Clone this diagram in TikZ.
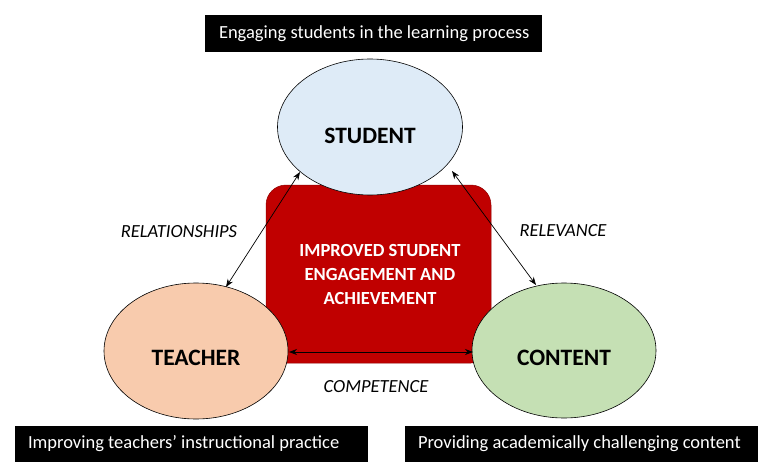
\documentclass[tikz,border=0pt]{standalone}
\usepackage{fontspec}
\setmainfont{Carlito}
\usetikzlibrary{arrows.meta,shapes.geometric}
\definecolor{stud}{HTML}{DEEBF7}
\definecolor{teach}{HTML}{F8CBAD}
\definecolor{cont}{HTML}{C5E0B4}
\definecolor{core}{HTML}{C00000}
\tikzset{
  blackbox/.style={fill=black,inner sep=0pt},
  boxtext/.style={text=white,anchor=west,inner sep=0pt,font=\fontsize{18.5}{22}\selectfont},
  roleell/.style={ellipse,draw=black,line width=0.6pt,inner sep=0pt},
  rolelabel/.style={font=\bfseries\fontsize{23.5}{28}\selectfont},
  linklabel/.style={font=\itshape\fontsize{18.5}{22}\selectfont},
  link/.style={{Stealth[length=8pt,width=6pt]}-{Stealth[length=8pt,width=6pt]},line width=0.7pt},
}
\begin{document}
\begin{tikzpicture}[x=1pt,y=-1pt]
\useasboundingbox (0,0) rectangle (768,476);
\fill[white] (0,0) rectangle (768,476);
% core
\node[fill=core,draw=core!75!black,line width=0.5pt,rounded corners=20pt,minimum width=225pt,minimum height=178pt,inner sep=0pt] (core) at (378.5,274) {};
\node[text=white,font=\bfseries\fontsize{18.5}{24}\selectfont,align=center] (coretext) at (380,274) {IMPROVED STUDENT\\ENGAGEMENT AND\\ACHIEVEMENT};
% ellipses
\node[roleell,fill=stud,minimum width=185pt,minimum height=136pt] (student) at (370,127) {};
\node[rolelabel] (studentlbl) at (370,136) {STUDENT};
\node[roleell,fill=teach,minimum width=184pt,minimum height=136pt] (teacher) at (196,351) {};
\node[rolelabel] (teacherlbl) at (196,358) {TEACHER};
\node[roleell,fill=cont,minimum width=184pt,minimum height=135pt] (content) at (564,350.5) {};
\node[rolelabel] (contentlbl) at (564,358) {CONTENT};
% arrows
\coordinate (st1) at (300,172);
\coordinate (st2) at (226,287);
\coordinate (sc1) at (452,171);
\coordinate (sc2) at (536,285);
\coordinate (tc1) at (289,352);
\coordinate (tc2) at (473,352);
\draw[link] (st2) -- (st1);
\draw[link] (sc1) -- (sc2);
\draw[link] (tc1) -- (tc2);
% labels
\node[linklabel] (rel) at (179,232) {RELATIONSHIPS};
\node[linklabel] (relv) at (563,231) {RELEVANCE};
\node[linklabel] (comp) at (376,387) {COMPETENCE};
% boxes
\node[blackbox,minimum width=337pt,minimum height=37pt] (topbox) at (373.5,33.5) {};
\node[boxtext] (toptext) at ([xshift=14pt]topbox.west) {Engaging students in the learning process};
\node[blackbox,minimum width=353pt,minimum height=36pt] (lbox) at (191.5,444) {};
\node[boxtext] (ltext) at ([xshift=13pt]lbox.west) {Improving teachers’ instructional practice};
\node[blackbox,minimum width=353pt,minimum height=36pt] (rbox) at (581.5,444) {};
\node[boxtext] (rtext) at ([xshift=13pt]rbox.west) {Providing academically challenging content};
\end{tikzpicture}
\end{document}
